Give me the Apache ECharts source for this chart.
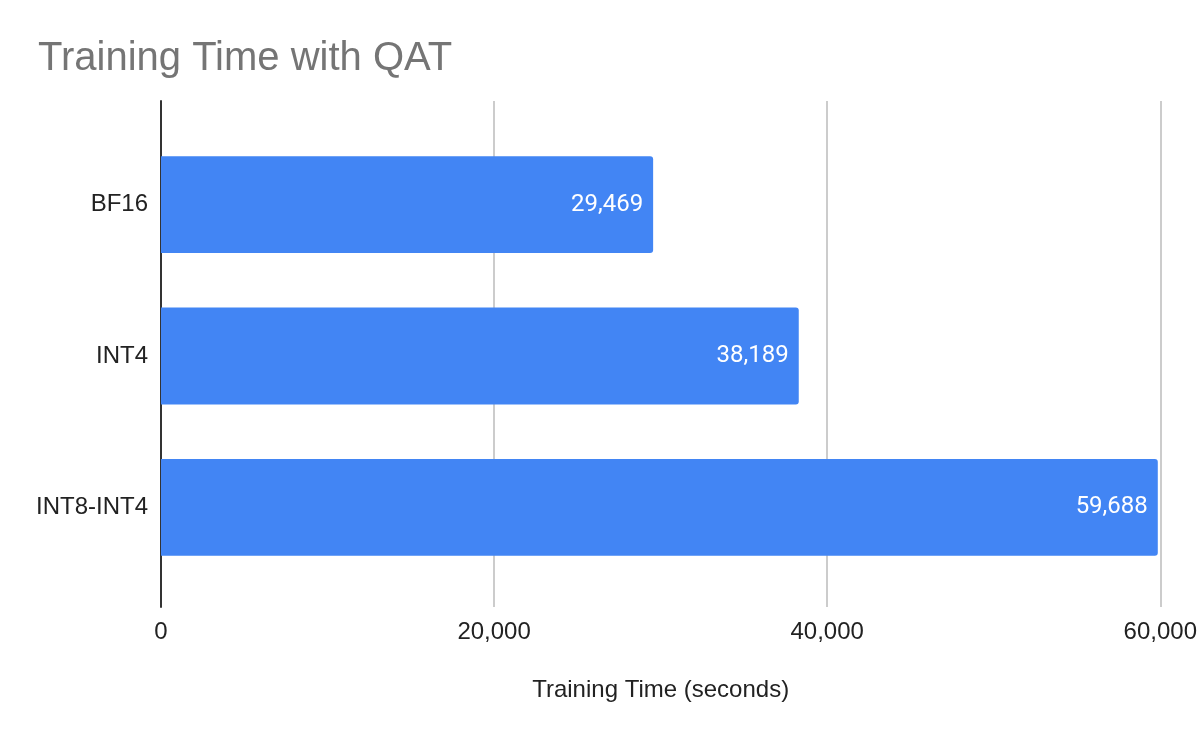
<!DOCTYPE html>
<html>
<head>
<meta charset="utf-8">
<script src="https://cdn.jsdelivr.net/npm/echarts@6/dist/echarts.min.js"></script>
<style>
html,body{margin:0;padding:0;background:#fff;}
#chart{width:1200px;height:742px;}
</style>
</head>
<body>
<div id="chart"></div>
<script>
const categories = ["BF16", "INT4", "INT8-INT4"];
const trainingTime = [29469, 38189, 59688];
const xTicks = [0, 20000, 40000, 60000];

const fmt = v => v.toLocaleString('en-US');
const ARIAL = "'Liberation Sans', Arial, sans-serif";
const xMin = xTicks[0], xMax = xTicks[xTicks.length - 1];
const chart = echarts.init(document.getElementById('chart'));
chart.setOption({
  animation: false,
  backgroundColor: '#ffffff',
  title: {
    text: 'Training Time with QAT',
    left: 33, top: 34,
    textStyle: { fontFamily: ARIAL, fontSize: 40, fontWeight: 'normal', color: '#757575' }
  },
  grid: [
    { left: 161, right: 37, top: 101, bottom: 135 },
    { left: 161, right: 37, top: 129, bottom: 159 }
  ],
  xAxis: [{
    gridIndex: 0, type: 'value', min: xMin, max: xMax, interval: 20000,
    name: 'Training Time (seconds)', nameLocation: 'middle', nameGap: 83,
    nameTextStyle: { fontFamily: ARIAL, fontSize: 24, color: '#222', verticalAlign: 'middle' },
    axisLine: { show: false }, axisTick: { show: false },
    axisLabel: { fontFamily: ARIAL, fontSize: 24, color: '#222', margin: 13, formatter: v => fmt(v) },
    splitLine: { show: true, lineStyle: { color: '#cccccc', width: 2 } }
  }, {
    gridIndex: 1, type: 'value', min: xMin, max: xMax, interval: 20000, show: false,
    splitLine: { show: false }
  }],
  yAxis: [{
    gridIndex: 0, type: 'category', data: categories, inverse: true,
    axisLine: { show: true, lineStyle: { color: '#333333', width: 2 } },
    axisTick: { show: false }, axisLabel: { show: false }, splitLine: { show: false }
  }, {
    gridIndex: 1, type: 'category', data: categories, inverse: true,
    axisLine: { show: false }, axisTick: { show: false }, splitLine: { show: false },
    axisLabel: { fontFamily: ARIAL, fontSize: 24, color: '#222', margin: 13 }
  }],
  series: [{
    type: 'bar', xAxisIndex: 1, yAxisIndex: 1, data: trainingTime, barCategoryGap: '36%',
    itemStyle: { color: '#4285f4', borderRadius: [0, 3, 3, 0] },
    label: { show: true, position: 'insideRight', distance: 10, color: '#ffffff', fontFamily: "Roboto, sans-serif", fontSize: 24, formatter: p => fmt(p.value) }
  }]
});
</script>
</body>
</html>
